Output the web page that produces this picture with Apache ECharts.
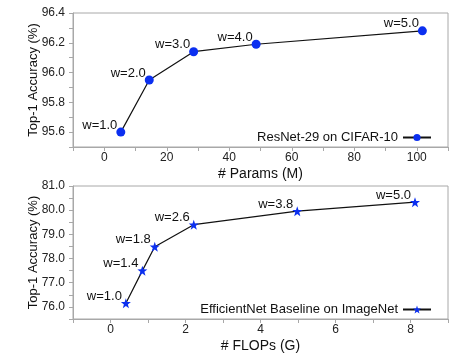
<!DOCTYPE html>
<html><head><meta charset="utf-8">
<script src="https://cdn.jsdelivr.net/npm/echarts@6/dist/echarts.min.js"></script>
<style>html,body{margin:0;padding:0;background:#fff}#c{width:474px;height:362px}</style>
</head><body><div id="c"></div>
<script>
// Top chart: ResNet-29 on CIFAR-10
const paramsM = [5.3, 14.4, 28.6, 48.6, 101.8];
const cifarAcc = [95.60, 95.95, 96.14, 96.19, 96.28];
const cifarLabels = ['w=1.0', 'w=2.0', 'w=3.0', 'w=4.0', 'w=5.0'];
const cifarName = 'ResNet-29 on CIFAR-10';
// Bottom chart: EfficientNet baseline on ImageNet
const flopsG = [0.41, 0.85, 1.18, 2.22, 4.98, 8.12];
const imagenetAcc = [76.15, 77.5, 78.49, 79.4, 79.96, 80.33];
const imagenetLabels = ['w=1.0', 'w=1.4', 'w=1.8', 'w=2.6', 'w=3.8', 'w=5.0'];
const imagenetName = 'EfficientNet Baseline on ImageNet';

const FONT = '"Liberation Sans", Arial, sans-serif';
const gray = '#a8a8a8';
const blue = '#0b2ff0';

function mk(xs, ys, ls){ return xs.map((x,i)=>({value:[x, ys[i]], name: ls[i]})); }

function xAxis(gi, min, max, step, labelEvery, name){
  return {
    type:'value', gridIndex:gi, min:min, max:max, interval:step,
    name:name, nameLocation:'middle', nameGap:20, nameMoveOverlap:false,
    nameTextStyle:{fontFamily:FONT, fontSize:14, color:'#111'},
    axisLine:{show:true, onZero:false, lineStyle:{color:gray, width:1}},
    axisTick:{show:true, length:4, lineStyle:{color:gray}},
    splitLine:{show:false},
    axisLabel:{fontFamily:FONT, fontSize:12, color:'#222', margin:5,
      formatter:function(v){ return (Math.round(v/labelEvery*1e6)%1e6===0)? String(Math.round(v)) : ''; }}
  };
}
function yAxis(gi, min, max, step, labelEvery, name){
  return {
    type:'value', gridIndex:gi, min:min, max:max, interval:step,
    name:name, nameLocation:'middle', nameGap:33, nameMoveOverlap:false,
    nameTextStyle:{fontFamily:FONT, fontSize:13, color:'#111'},
    axisLine:{show:true, onZero:false, lineStyle:{color:gray, width:1}},
    axisTick:{show:true, length:4, lineStyle:{color:gray}},
    splitLine:{show:false},
    axisLabel:{fontFamily:FONT, fontSize:12, color:'#222', margin:8,
      formatter:function(v){ const r=v/labelEvery; return Math.abs(r-Math.round(r))<1e-6 ? v.toFixed(1) : ''; }}
  };
}
function series(name, xi, data, symbol, size){
  return {
    name:name, type:'line', xAxisIndex:xi, yAxisIndex:xi, data:data,
    symbol:symbol, symbolSize:size, showAllSymbol:true,
    itemStyle:{color:blue}, lineStyle:{color:'#111', width:1.2},
    label:{show:true, position:'left', distance:2, offset:[3,-7], formatter:'{b}',
      fontFamily:FONT, fontSize:13, color:'#111'},
    z:3
  };
}

const chart = echarts.init(document.getElementById('c'), null, {renderer:'canvas'});
chart.setOption({
  animation:false,
  backgroundColor:'#fff',
  grid:[
    {left:73, right:26, top:13, height:134, show:true, borderColor:gray, borderWidth:1, containLabel:false},
    {left:73, right:26, top:186, height:133, show:true, borderColor:gray, borderWidth:1, containLabel:false}
  ],
  xAxis:[
    xAxis(0, -10, 110, 10, 20, '# Params (M)'),
    xAxis(1, -1, 9, 1, 2, '# FLOPs (G)')
  ],
  yAxis:[
    yAxis(0, 95.5, 96.4, 0.1, 0.2, 'Top-1 Accuracy (%)'),
    yAxis(1, 75.5, 81.0, 0.5, 1, 'Top-1 Accuracy (%)')
  ],
  legend:[
    {data:[cifarName], right:42, top:131, align:'right', itemWidth:28, itemHeight:9, itemGap:0,
      textStyle:{fontFamily:FONT, fontSize:13, color:'#111'}, padding:0},
    {data:[imagenetName], right:42, top:303, align:'right', itemWidth:28, itemHeight:10, itemGap:0,
      textStyle:{fontFamily:FONT, fontSize:13, color:'#111'}, padding:0}
  ],
  series:[
    series(cifarName, 0, mk(paramsM, cifarAcc, cifarLabels), 'circle', 9),
    series(imagenetName, 1, mk(flopsG, imagenetAcc, imagenetLabels), 'path://M0,-10L2.35,-3.24L9.51,-3.09L3.8,1.24L5.88,8.09L0,4L-5.88,8.09L-3.8,1.24L-9.51,-3.09L-2.35,-3.24Z', 10)
  ]
});
</script></body></html>
